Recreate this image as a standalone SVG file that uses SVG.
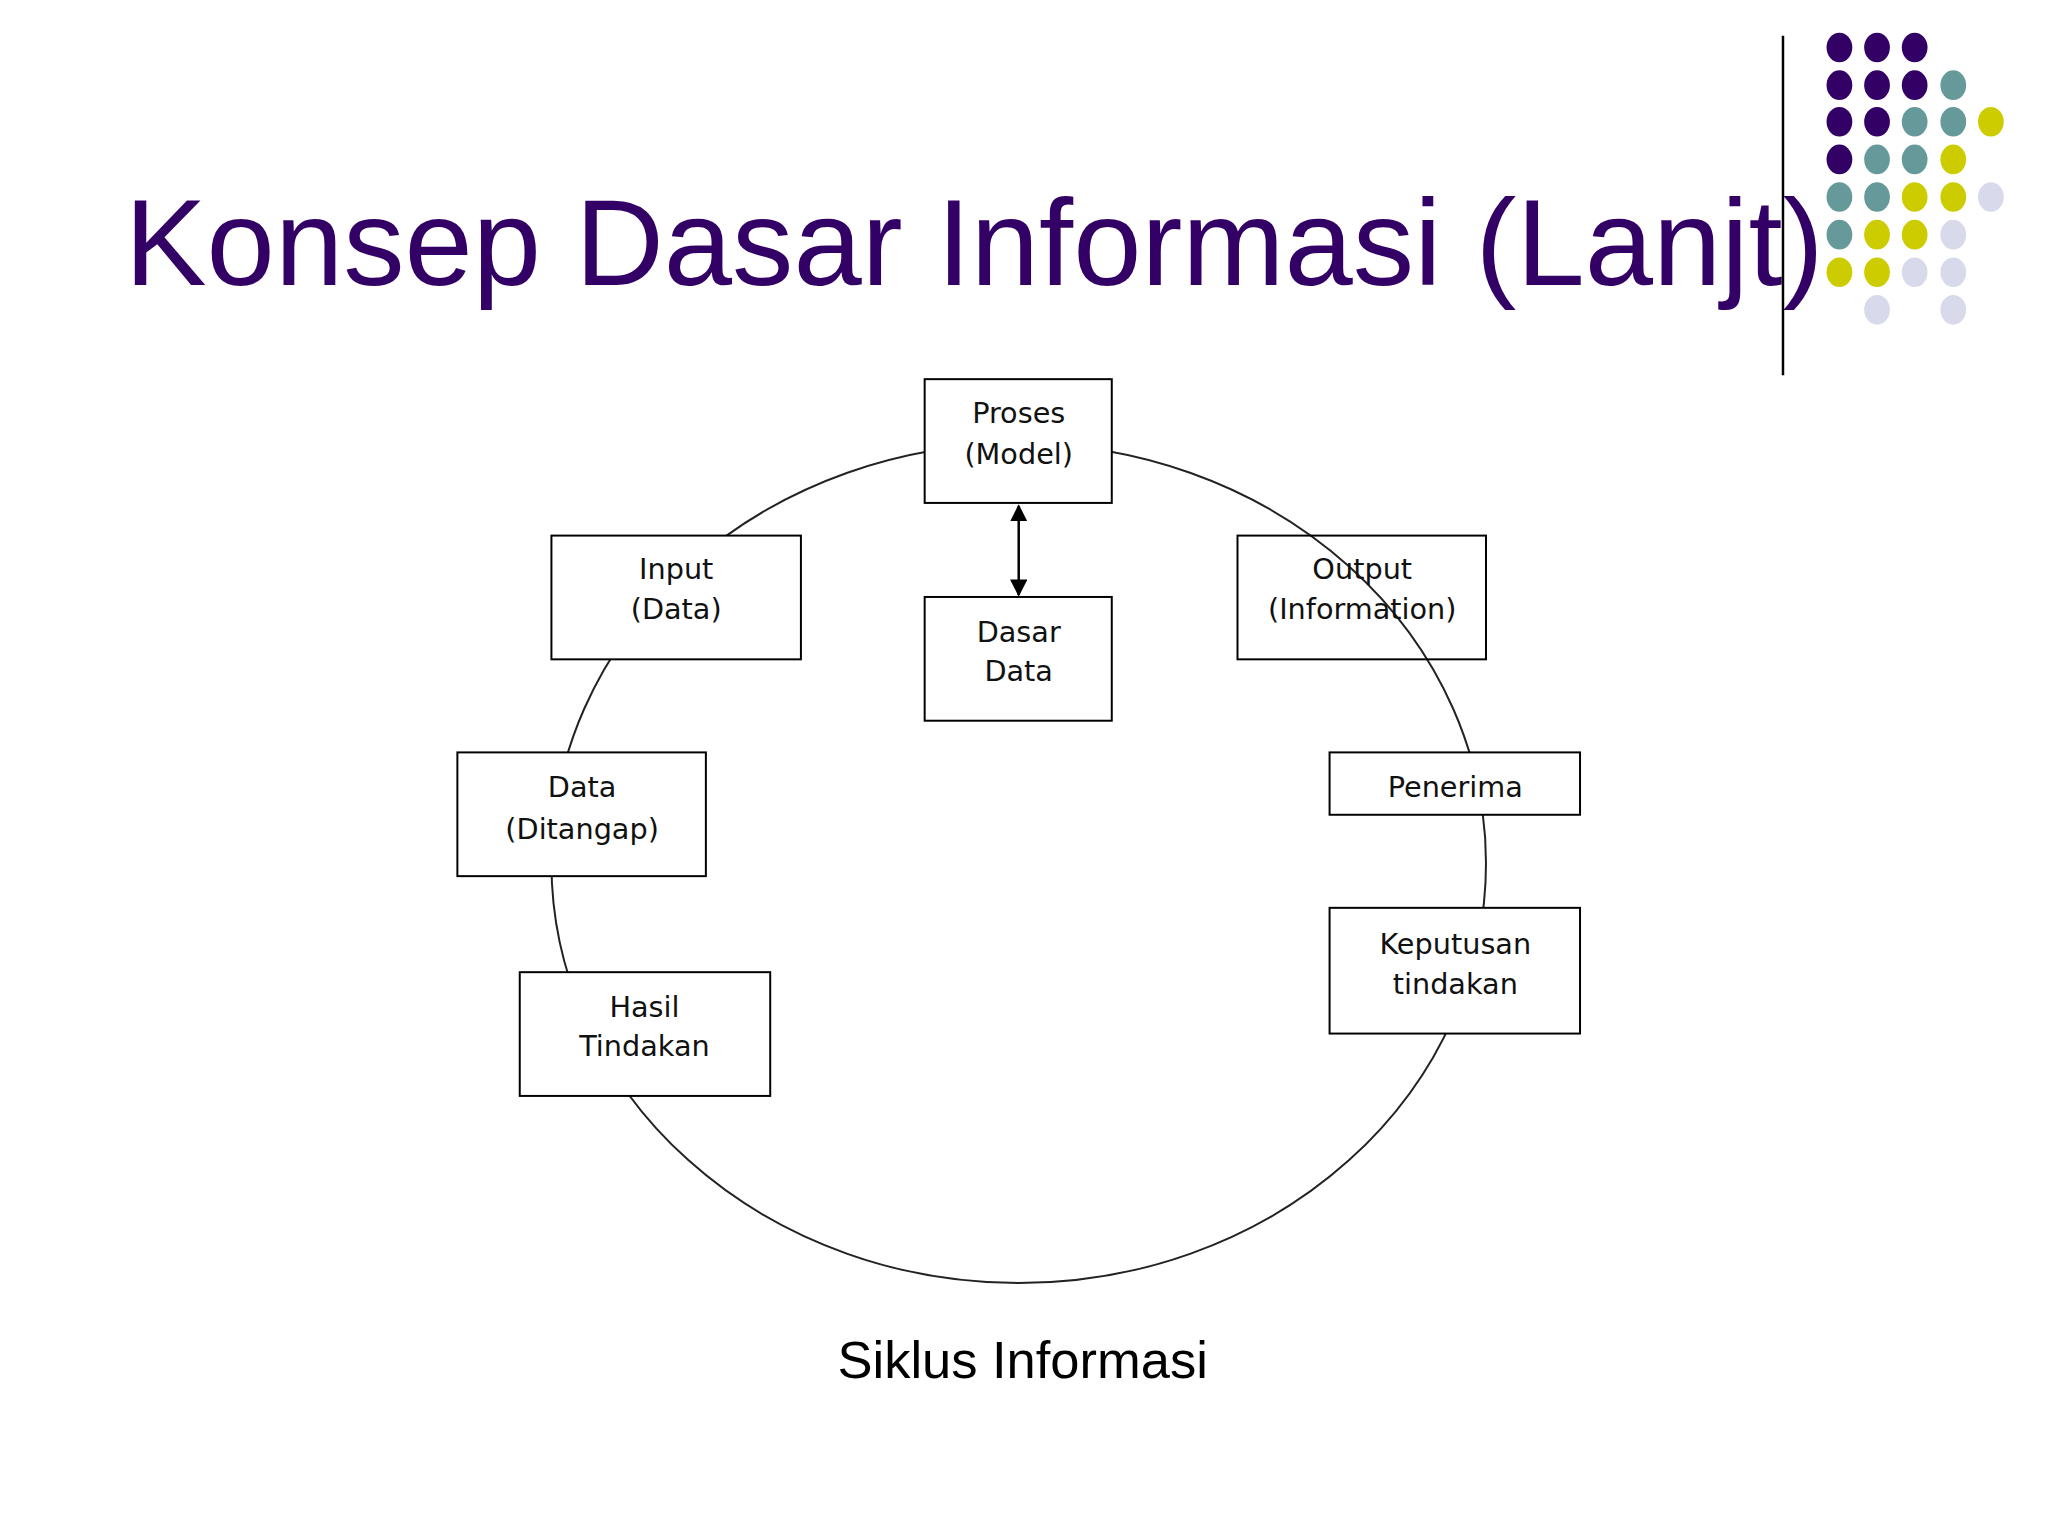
<svg xmlns="http://www.w3.org/2000/svg" width="2048" height="1536" viewBox="0 0 2048 1536">
<style>
.b{fill:#fff;stroke:#000;stroke-width:2}
.t{font-family:"DejaVu Sans",sans-serif;font-size:29px;fill:#111;text-anchor:middle}
.s{font-family:"Liberation Sans",Arial,sans-serif}
.P{fill:#330066}.T{fill:#669999}.Y{fill:#cccc00}.L{fill:#d9d9ec}
</style>
<defs><marker id="a" viewBox="0 0 10 10" refX="9" refY="5" markerWidth="7" markerHeight="7" orient="auto-start-reverse"><path d="M0,0L10,5L0,10z" fill="#000"/></marker></defs>
<rect width="2048" height="1536" fill="#fff"/>
<g transform="scale(0.99)">
<text class="s" x="126" y="288" font-size="124" fill="#330066">Konsep Dasar Informasi (Lanjt)</text>
<line x1="1801" y1="36" x2="1801" y2="379" stroke="#000" stroke-width="2.5"/>
<g id="dots">
<ellipse class="P" cx="1858" cy="48" rx="13" ry="15"/><ellipse class="P" cx="1896" cy="48" rx="13" ry="15"/><ellipse class="P" cx="1934" cy="48" rx="13" ry="15"/>
<ellipse class="P" cx="1858" cy="86" rx="13" ry="15"/><ellipse class="P" cx="1896" cy="86" rx="13" ry="15"/><ellipse class="P" cx="1934" cy="86" rx="13" ry="15"/><ellipse class="T" cx="1973" cy="86" rx="13" ry="15"/>
<ellipse class="P" cx="1858" cy="123" rx="13" ry="15"/><ellipse class="P" cx="1896" cy="123" rx="13" ry="15"/><ellipse class="T" cx="1934" cy="123" rx="13" ry="15"/><ellipse class="T" cx="1973" cy="123" rx="13" ry="15"/><ellipse class="Y" cx="2011" cy="123" rx="13" ry="15"/>
<ellipse class="P" cx="1858" cy="161" rx="13" ry="15"/><ellipse class="T" cx="1896" cy="161" rx="13" ry="15"/><ellipse class="T" cx="1934" cy="161" rx="13" ry="15"/><ellipse class="Y" cx="1973" cy="161" rx="13" ry="15"/>
<ellipse class="T" cx="1858" cy="199" rx="13" ry="15"/><ellipse class="T" cx="1896" cy="199" rx="13" ry="15"/><ellipse class="Y" cx="1934" cy="199" rx="13" ry="15"/><ellipse class="Y" cx="1973" cy="199" rx="13" ry="15"/><ellipse class="L" cx="2011" cy="199" rx="13" ry="15"/>
<ellipse class="T" cx="1858" cy="237" rx="13" ry="15"/><ellipse class="Y" cx="1896" cy="237" rx="13" ry="15"/><ellipse class="Y" cx="1934" cy="237" rx="13" ry="15"/><ellipse class="L" cx="1973" cy="237" rx="13" ry="15"/>
<ellipse class="Y" cx="1858" cy="275" rx="13" ry="15"/><ellipse class="Y" cx="1896" cy="275" rx="13" ry="15"/><ellipse class="L" cx="1934" cy="275" rx="13" ry="15"/><ellipse class="L" cx="1973" cy="275" rx="13" ry="15"/>
<ellipse class="L" cx="1896" cy="313" rx="13" ry="15"/><ellipse class="L" cx="1973" cy="313" rx="13" ry="15"/>
</g>
<g id="connectors">
<ellipse cx="1029" cy="872" rx="472" ry="424" fill="none" stroke="#222" stroke-width="2"/>
<line x1="1029" y1="511" x2="1029" y2="601" stroke="#000" stroke-width="2.5" marker-start="url(#a)" marker-end="url(#a)"/>
</g>
<g id="proses"><rect class="b" x="934" y="383" width="189" height="125"/><text class="t" x="1029" y="427">Proses</text><text class="t" x="1029" y="469">(Model)</text></g>
<g id="input"><rect class="b" x="557" y="541" width="252" height="125"/><text class="t" x="683" y="585">Input</text><text class="t" x="683" y="625">(Data)</text></g>
<g id="dasar"><rect class="b" x="934" y="603" width="189" height="125"/><text class="t" x="1029" y="648">Dasar</text><text class="t" x="1029" y="688">Data</text></g>
<g id="output"><rect x="1250" y="541" width="251" height="125" fill="none" stroke="#000" stroke-width="2"/><text class="t" x="1376" y="585">Output</text><text class="t" x="1376" y="625">(Information)</text></g>
<g id="penerima"><rect class="b" x="1343" y="760" width="253" height="63"/><text class="t" x="1470" y="805">Penerima</text></g>
<g id="data"><rect class="b" x="462" y="760" width="251" height="125"/><text class="t" x="588" y="805">Data</text><text class="t" x="588" y="847">(Ditangap)</text></g>
<g id="keputusan"><rect class="b" x="1343" y="917" width="253" height="127"/><text class="t" x="1470" y="964">Keputusan</text><text class="t" x="1470" y="1004">tindakan</text></g>
<g id="hasil"><rect class="b" x="525" y="982" width="253" height="125"/><text class="t" x="651" y="1027">Hasil</text><text class="t" x="651" y="1067">Tindakan</text></g>
<text class="s" x="1033" y="1392" font-size="53" text-anchor="middle" fill="#000">Siklus Informasi</text>
</g>
</svg>
